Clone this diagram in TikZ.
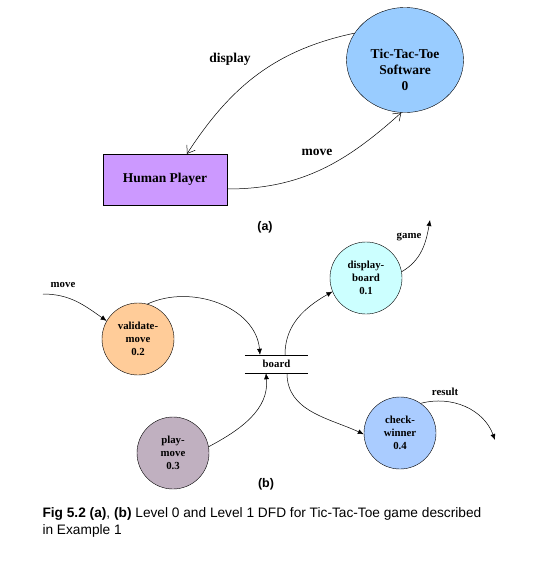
\documentclass[tikz,border=0pt]{standalone}
\usepackage{fontspec}
\setmainfont{Liberation Serif}
\newfontfamily\capfont{Liberation Sans}
\usetikzlibrary{arrows.meta,shapes.geometric}

\definecolor{sysblue}{HTML}{99CCFF}
\definecolor{userpurple}{HTML}{CC99FF}
\definecolor{showcyan}{HTML}{CCFFFF}
\definecolor{checkorange}{HTML}{FFCC99}
\definecolor{playmauve}{HTML}{C0B0C0}
\definecolor{winblue}{HTML}{AACCFF}

\begin{document}
\begin{tikzpicture}[x=1pt,y=-1pt,
    bubble/.style={circle,draw,minimum size=72pt,inner sep=0pt,align=center,
        font=\bfseries\fontsize{10.8}{13}\selectfont},
    bigtext/.style={font=\bfseries\fontsize{13.5}{16}\selectfont,align=center},
    smalltext/.style={font=\bfseries\fontsize{10.8}{13}\selectfont},
    parttext/.style={font=\capfont\bfseries\fontsize{12.5}{15}\selectfont},
    flowa/.style={-{Straight Barb[length=7pt,width=10pt]},line width=0.5pt},
    flowb/.style={-{Latex[length=6pt,width=5pt]},line width=0.5pt}]

        \useasboundingbox (0,0) rectangle (537,563);
        \fill[white] (0,0) rectangle (537,563);

        % Draw the level 0 diagram
        \node[ellipse,draw,fill=sysblue,minimum width=117pt,minimum height=105pt] (soft) at (405,60) {};
        \node[bigtext] (softname) at ([yshift=-10pt]soft.center) {Tic-Tac-Toe\\Software\\0};
        \node[draw,fill=userpurple,minimum width=124pt,minimum height=51pt,bigtext] (player) at (165,179.5) {Human Player};

        \draw[flowa] (soft.152) to[out=192,in=57] ([xshift=22pt]player.north);
        \node[bigtext] (displaylbl) at (230,59) {display};
        \draw[flowa] ([yshift=-9.5pt]player.east) to[out=0,in=222] (soft.266);
        \node[bigtext] (movelbl) at (317,152) {move};

        \node[parttext] (parta) at (265,227) {(a)};

        % Draw the level 1 diagram
        \node[bubble,fill=showcyan] (show) at (366,278) {display-\\board\\0.1};
        \node[bubble,fill=checkorange] (check) at (138,339) {validate-\\move\\0.2};
        \node[bubble,fill=playmauve] (play) at (173,453) {play-\\move\\0.3};
        \node[bubble,fill=winblue] (win) at (400,433) {check-\\winner\\0.4};

        \node[smalltext,minimum width=63pt,minimum height=18pt,inner sep=0pt] (board) at (276.5,364) {board};
        \draw (board.north west) -- (board.north east);
        \draw (board.south west) -- (board.south east);

        \coordinate (movein) at (43,294);
        \coordinate (gameout) at (430,220);
        \coordinate (resultout) at (495,440);

        \draw[flowb] (movein) to[out=0,in=145] (check.150);
        \node[smalltext] (moveinlbl) at (63,285) {move};
        \draw[flowb] (check.75) to[out=25,in=95] ([xshift=-16.5pt]board.north);
        \draw[flowb] (play.10) to[out=28,in=-85] ([xshift=-10.5pt]board.south);
        \draw[flowb] ([xshift=8.5pt]board.north) to[out=90,in=210] (show.202);
        \draw[flowb] ([xshift=10.5pt]board.south) to[out=-90,in=155] (win.182);
        \draw[flowb] (show.10) to[out=30,in=-100] (gameout);
        \node[smalltext] (gamelbl) at (409,237) {game};
        \draw[flowb] (win.55) to[out=15,in=110] (resultout);
        \node[smalltext] (resultlbl) at (445,392) {result};

        \node[parttext] (partb) at (266,484) {(b)};

        % Caption
        \node[anchor=west,align=left,font=\capfont\fontsize{13.7}{17}\selectfont] (caption) at (39,522.5)
            {\textbf{Fig 5.2 (a)}, \textbf{(b)} Level 0 and Level 1 DFD for Tic-Tac-Toe game described\\in Example 1};
    \end{tikzpicture}
\end{document}
